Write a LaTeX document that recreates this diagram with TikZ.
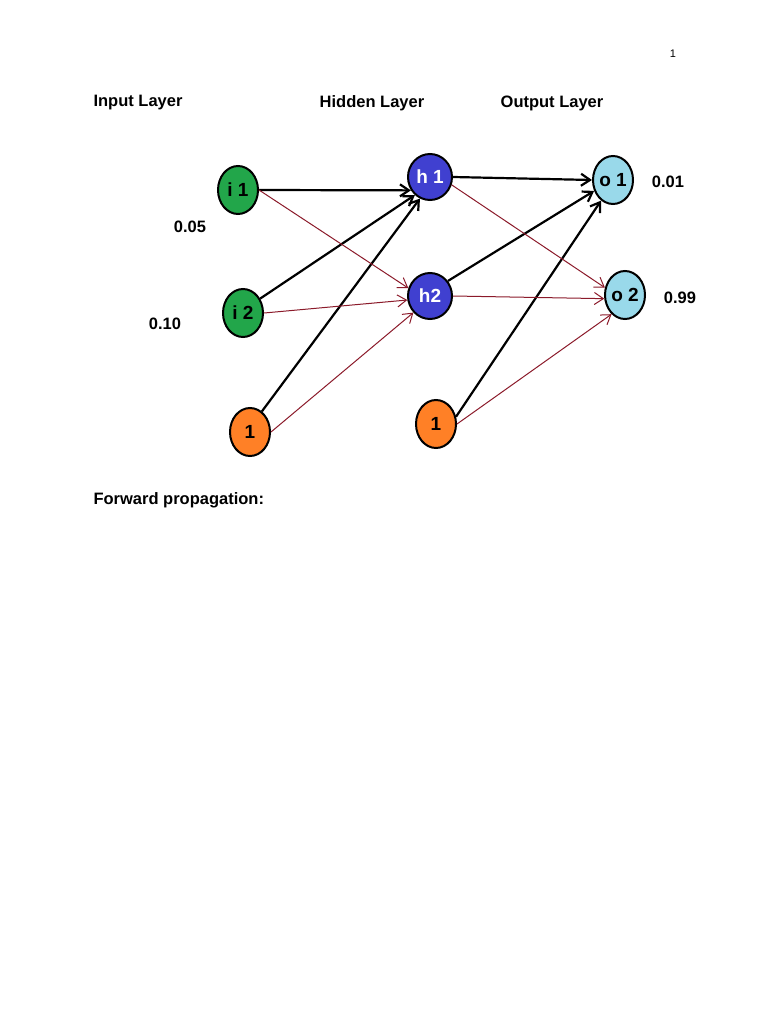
\documentclass[tikz,border=0pt]{standalone}
\usepackage{fontspec}
\setmainfont{Liberation Sans}
\usetikzlibrary{arrows.meta,shapes.geometric}
\definecolor{ngreen}{HTML}{22A64A}
\definecolor{nblue}{HTML}{4040D0}
\definecolor{norange}{HTML}{FF8026}
\definecolor{ncyan}{HTML}{99D9EA}
\definecolor{nred}{HTML}{8B1A2A}
\begin{document}
\begin{tikzpicture}[x=1pt,y=-1pt,
  neuron/.style={ellipse,draw=black,line width=2pt,minimum width=40pt,minimum height=48pt,inner sep=0pt,font=\bfseries\fontsize{19}{19}\selectfont},
  lbl/.style={font=\bfseries\fontsize{16.5}{16.5}\selectfont},
  blk/.style={-{Straight Barb[length=9pt,width=12pt]},line width=2.2pt,black},
  red/.style={-{Straight Barb[length=9pt,width=12pt]},line width=1pt,nred}]
\useasboundingbox (0,0) rectangle (768,1024);
\node[font=\fontsize{11}{11}\selectfont] (pg) at (673,54) {1};
\node[lbl] (tin) at (138,103) {Input Layer};
\node[lbl] (thid) at (372,103) {Hidden Layer};
\node[lbl] (tout) at (552,103) {Output Layer};
\node[neuron,fill=ngreen] (i1) at (238,190) {i 1};
\node[neuron,fill=ngreen] (i2) at (243,313) {i 2};
\node[neuron,fill=norange] (b1) at (250,432) {1};
\node[neuron,fill=nblue,text=white,minimum width=44pt,minimum height=46pt] (h1) at (430,177) {h 1};
\node[neuron,fill=nblue,text=white,minimum width=44pt,minimum height=46pt] (h2) at (430,296) {h2};
\node[neuron,fill=norange] (b2) at (436,424) {1};
\node[neuron,fill=ncyan] (o1) at (613,180) {o 1};
\node[neuron,fill=ncyan] (o2) at (625,295) {o 2};
\node[lbl] (v1) at (190,227) {0.05};
\node[lbl] (v2) at (165,324) {0.10};
\node[lbl] (v3) at (668,182) {0.01};
\node[lbl] (v4) at (680,298) {0.99};
\node[lbl,anchor=west] (fp) at (90,500) {Forward propagation:};
\draw[blk] (i1.east) -- (h1.215);
\draw[blk] (i2.40) -- (h1.230);
\draw[blk] (b1.60) -- (h1.245);
\draw[red] (i1.east) -- (h2.160);
\draw[red] (i2.east) -- (h2.190);
\draw[red] (b1.east) -- (h2.225);
\draw[blk] (h1.east) -- (o1.180);
\draw[blk] (h2.40) -- (o1.210);
\draw[blk] (b2.20) -- (o1.240);
\draw[red] (h1.340) -- (o2.160);
\draw[red] (h2.east) -- (o2.190);
\draw[red] (b2.east) -- (o2.235);
\end{tikzpicture}
\end{document}
